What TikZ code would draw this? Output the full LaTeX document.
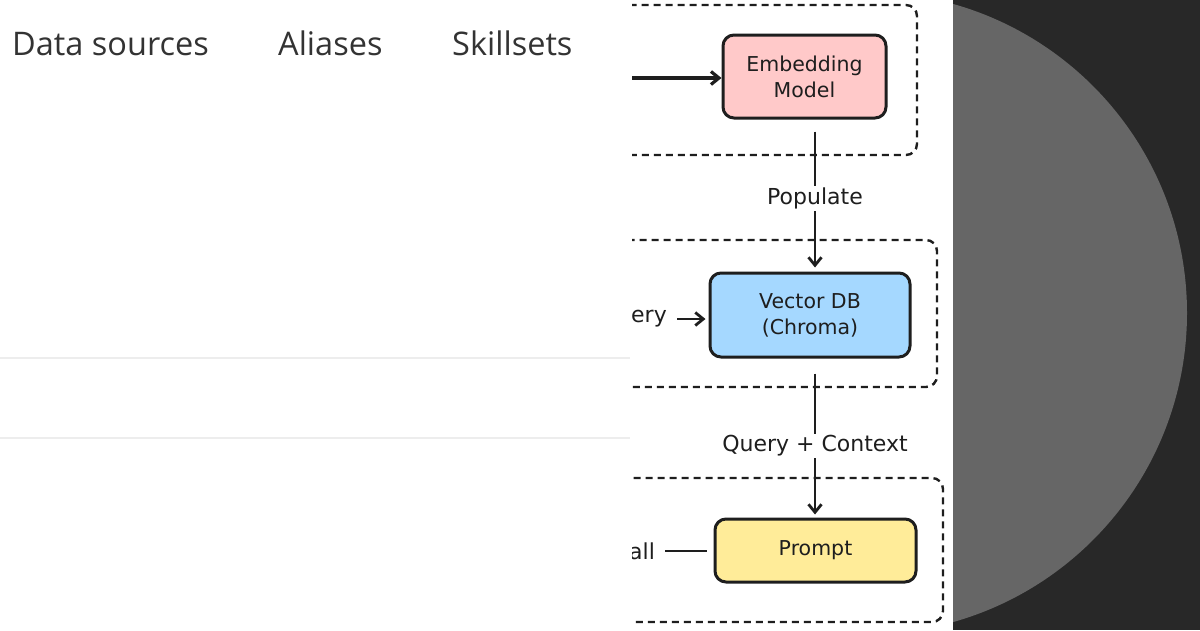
\documentclass[tikz,border=0pt]{standalone}
\usepackage{fontspec}
\setmainfont{Noto Sans}
\newfontfamily\uifont{Open Sans}
\newfontfamily\handfont{DejaVu Sans}
\usetikzlibrary{arrows.meta}

\definecolor{ink}{HTML}{1E1E1E}
\definecolor{uitext}{HTML}{333333}
\definecolor{rule}{HTML}{EDEDED}
\definecolor{darkbg}{HTML}{282828}
\definecolor{disc}{HTML}{666666}
\definecolor{pinkfill}{HTML}{FFC9C9}
\definecolor{bluefill}{HTML}{A5D8FF}
\definecolor{yellowfill}{HTML}{FFEC99}

\tikzset{
  tab/.style={font=\uifont\fontsize{32.5}{38}\selectfont, text=uitext, inner sep=0pt},
  sepline/.style={draw=rule, line width=2pt},
  group/.style={draw=ink, line width=2.4pt, dash pattern=on 7pt off 5pt, rounded corners=11pt},
  stage/.style={draw=ink, line width=3pt, rounded corners=11pt, text=ink,
    font=\handfont\fontsize{20.5}{26}\selectfont, align=center, inner sep=0pt},
  lbl/.style={text=ink, font=\handfont\fontsize{22}{26}\selectfont, inner sep=2pt},
  conn/.style={draw=ink, line width=2.8pt, -{Straight Barb[length=8pt,width=13pt]}},
  plainconn/.style={draw=ink, line width=2.8pt}
}

\begin{document}
\begin{tikzpicture}[x=1pt, y=-1pt]
\useasboundingbox (0,0) rectangle (1200,630);

% page backgrounds
\fill[white] (0,0) rectangle (953,630);
\fill[darkbg] (953,0) rectangle (1200,630);
\begin{scope}
  \clip (953,0) rectangle (1200,630);
  \fill[disc] (866,313) circle[radius=321pt];
\end{scope}

% tab bar and list rules
\node[tab, anchor=base west] (tabdata) at (12,55) {Data sources};
\node[tab, anchor=base west] (tabalias) at (278,55) {Aliases};
\node[tab, anchor=base west] (tabskill) at (452,55) {Skillsets};
\draw[sepline] (0,358) -- (630,358);
\draw[sepline] (0,438) -- (630,438);

% pipeline panel
\begin{scope}
  \clip (632,0) rectangle (953,630);

  % stage groups
  \draw[group] (560,5) rectangle (917,155);
  \draw[group] (560,240) rectangle (937,387);
  \draw[group] (560,478) rectangle (943,622);

  % stages
  \node[stage, fill=pinkfill, minimum width=163pt, minimum height=83pt] (emb)
    at (804.5,76.5) {Embedding\\Model};
  \node[stage, fill=bluefill, minimum width=200pt, minimum height=84pt] (vdb)
    at (810,315) {Vector DB\\(Chroma)};
  \node[stage, fill=yellowfill, minimum width=201pt, minimum height=63pt] (prm)
    at (815.5,550.5) {Prompt};

  \coordinate (vx) at (815,0);
  \coordinate (inA) at (632,78);

  % side inputs
  \node[lbl, anchor=west, inner sep=0pt] (qry) at (631,319) {ery};
  \node[lbl, anchor=west, inner sep=0pt] (rcl) at (629,551) {all};

  % connectors
  \draw[conn, line width=3.2pt] (inA) -- (inA -| emb.west);
  \draw[conn, shorten <=12pt, shorten >=4pt] (emb.south -| vx) --
    node[lbl, fill=white, pos=0.52] (pop) {Populate} (vdb.north -| vx);
  \draw[conn, shorten <=15pt, shorten >=3pt] (vdb.south -| vx) --
    node[lbl, fill=white, pos=0.55] (qc) {Query + Context} (prm.north -| vx);
  \draw[conn, shorten <=10pt, shorten >=3pt] (qry.east) -- (qry.east -| vdb.west);
  \draw[plainconn, shorten <=10pt, shorten >=7pt] (rcl.east) -- (rcl.east -| prm.west);
\end{scope}
\end{tikzpicture}
\end{document}
